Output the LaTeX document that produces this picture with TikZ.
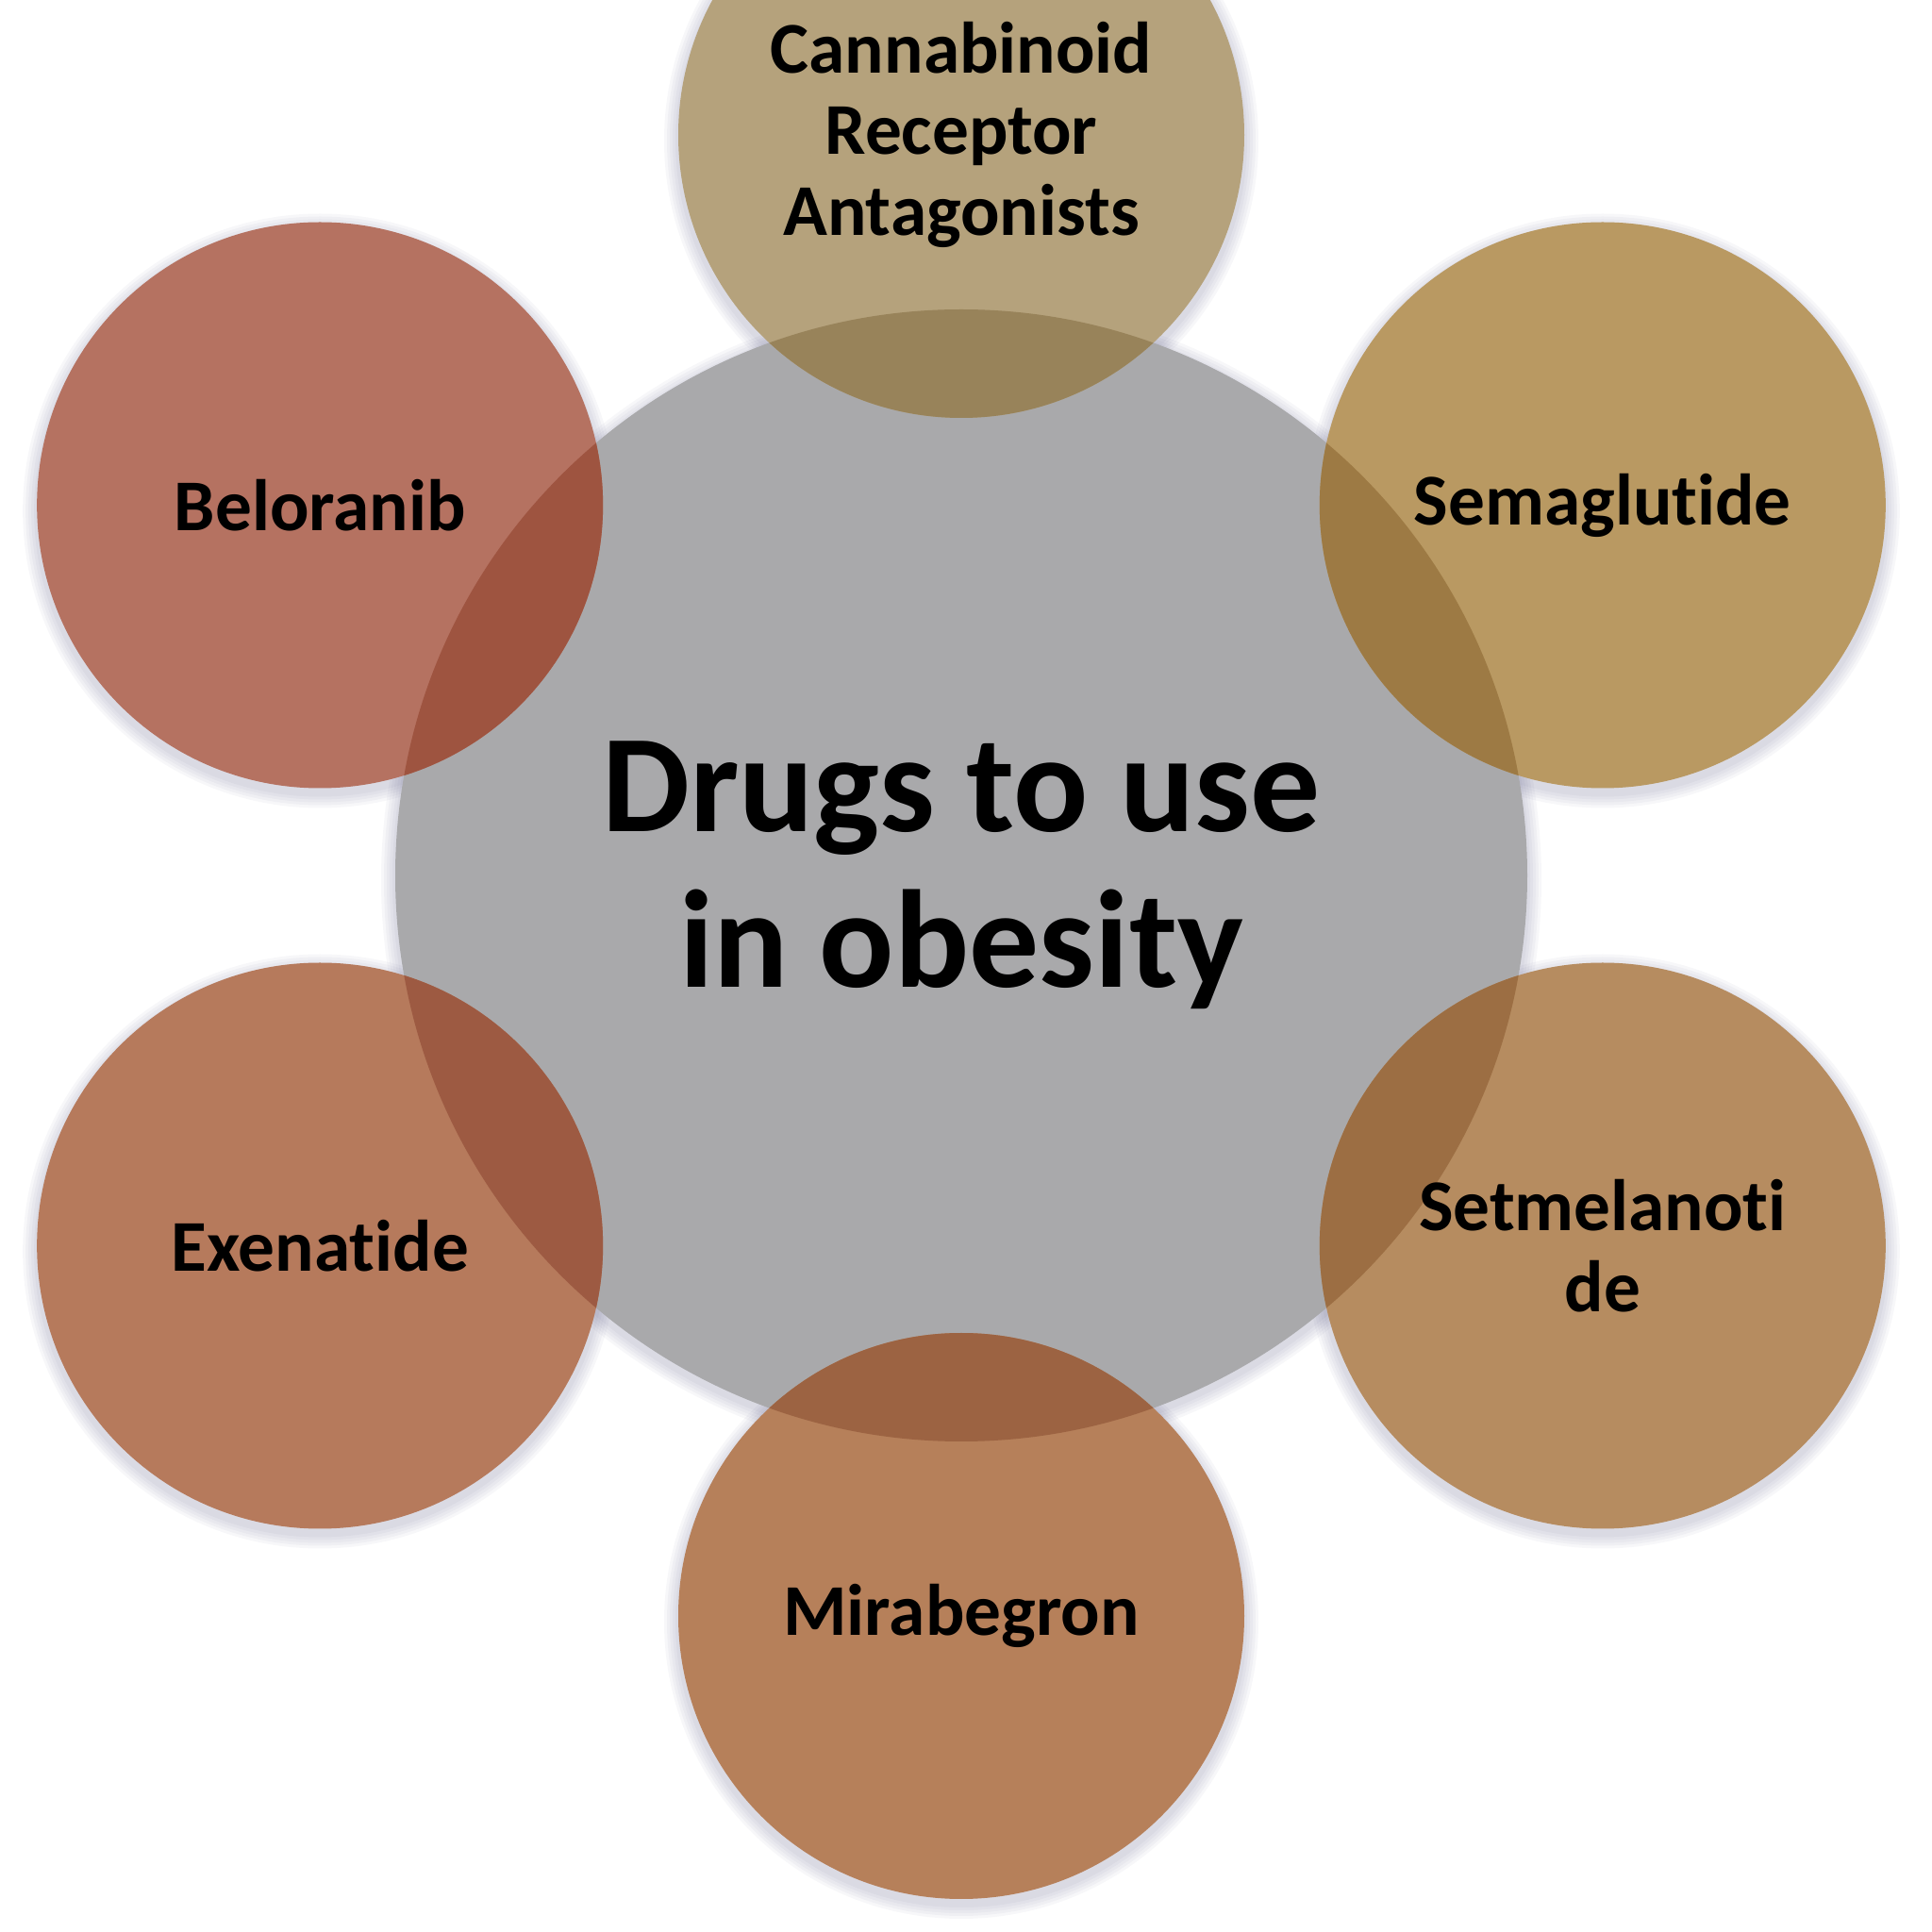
\documentclass[tikz,border=0pt]{standalone}
\usepackage{fontspec}
\setmainfont{Carlito}[Ligatures=NoCommon]
\usetikzlibrary{positioning,backgrounds}

\definecolor{hubgray}{RGB}{169,169,171}
\definecolor{cannabis}{RGB}{181,162,124}
\definecolor{cannabisdark}{RGB}{152,131,90}
\definecolor{sema}{RGB}{185,153,98}
\definecolor{semadark}{RGB}{157,122,68}
\definecolor{setmel}{RGB}{182,140,96}
\definecolor{setmeldark}{RGB}{156,110,67}
\definecolor{mirab}{RGB}{182,128,90}
\definecolor{mirabdark}{RGB}{156,99,66}
\definecolor{exena}{RGB}{182,122,92}
\definecolor{exenadark}{RGB}{157,90,66}
\definecolor{belor}{RGB}{181,114,97}
\definecolor{belordark}{RGB}{158,84,64}

\begin{document}
\begin{tikzpicture}
          [hub/.style={circle, fill=hubgray, minimum size=12cm, inner sep=0pt, align=center,
              font=\bfseries\fontsize{42}{47}\selectfont},
          drug/.style={circle, minimum size=6cm, inner sep=0pt, align=center, fill=#1,
              font=\bfseries\fontsize{22}{24.5}\selectfont,
              path picture={\fill [#1dark] (obesity.center) circle (6);}},
          halo/.style={fill=black!75!blue, opacity=0.03}]
          \useasboundingbox (0,0) rectangle (20.48,20.48);

          \node [hub] (obesity) at (10.19,11.20) {Drugs to use\\in obesity};
          \node [drug=cannabis] (cannabinoid) at ([shift={(90:7.85)}]obesity.center) {Cannabinoid\\Receptor\\Antagonists};
          \node [drug=sema]     (semaglutide) at ([shift={(30:7.85)}]obesity.center) {Semaglutide};
          \node [drug=setmel]   (setmelanotide) at ([shift={(-30:7.85)}]obesity.center) {Setmelanoti\\de};
          \node [drug=mirab]    (mirabegron) at ([shift={(-90:7.85)}]obesity.center) {Mirabegron};
          \node [drug=exena]    (exenatide) at ([shift={(210:7.85)}]obesity.center) {Exenatide};
          \node [drug=belor]    (beloranib) at ([shift={(150:7.85)}]obesity.center) {Beloranib};

          % soft shadows
          \begin{scope}[on background layer]
              \foreach \k in {1,...,5}
                  \fill [halo] ([yshift=-0.05cm]obesity.center) circle (6+0.03*\k);
              \foreach \n in {cannabinoid,semaglutide,setmelanotide,mirabegron,exenatide,beloranib}
                  \foreach \k in {1,...,5}
                      \fill [halo] ([yshift=-0.06cm]\n.center) circle (3+0.03*\k);
          \end{scope}
\end{tikzpicture}
\end{document}
